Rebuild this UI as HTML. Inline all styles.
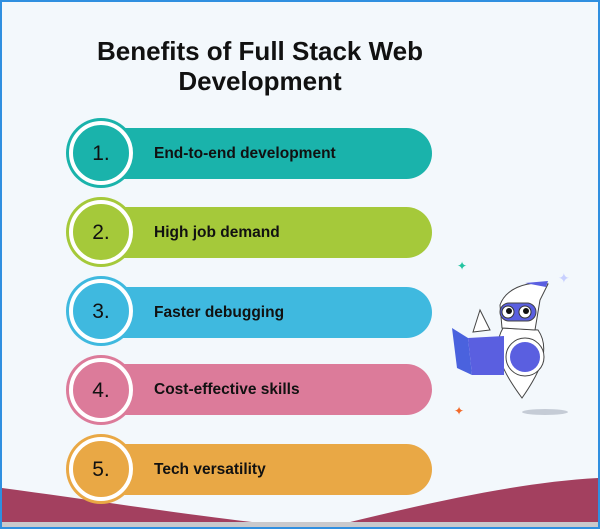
<!DOCTYPE html>
<html><head><style>
body{margin:0;width:600px;height:529px;overflow:hidden;font-family:"Liberation Sans",sans-serif;}
.frame{position:absolute;left:0;top:0;width:596px;height:525px;border:2px solid #2f8fe0;background:#f3f8fc;overflow:hidden;}
.t{position:absolute;left:0;width:516px;text-align:center;font-size:26px;font-weight:bold;color:#111;}
.bar{position:absolute;left:98px;width:332px;height:51px;border-radius:0 26px 26px 0;}
.bar span{position:absolute;left:54px;top:0;line-height:51px;font-size:15.5px;font-weight:bold;color:#111;}
.c{position:absolute;left:67px;width:56px;height:56px;border-radius:50%;border:4px solid #fff;}
.c span{position:absolute;left:0;right:0;text-align:center;top:17px;font-size:21px;color:#111;}
</style></head><body><div class="frame">
<div class="t" style="top:34px">Benefits of Full Stack Web</div>
<div class="t" style="top:64px">Development</div>
<svg style="position:absolute;left:0;top:0" width="596" height="525">
<path d="M0 486 C90 498 180 512 250 520 L340 522 C430 500 520 480 596 476 L596 525 L0 525Z" fill="#a3405f"/>
<rect x="0" y="520" width="596" height="5" fill="#c9c9cc"/>
</svg>
<div class="bar" style="top:126px;background:#1ab3ab"><span>End-to-end development</span></div>
<div class="bar" style="top:205px;background:#a5c93a"><span>High job demand</span></div>
<div class="bar" style="top:285px;background:#3fb9df"><span>Faster debugging</span></div>
<div class="bar" style="top:362px;background:#dc7b9a"><span>Cost-effective skills</span></div>
<div class="bar" style="top:442px;background:#e9a845"><span>Tech versatility</span></div>
<div class="c" style="top:119px;background:#1ab3ab;box-shadow:0 0 0 3px #1ab3ab"><span>1.</span></div>
<div class="c" style="top:198px;background:#a5c93a;box-shadow:0 0 0 3px #a5c93a"><span>2.</span></div>
<div class="c" style="top:277px;background:#3fb9df;box-shadow:0 0 0 3px #3fb9df"><span>3.</span></div>
<div class="c" style="top:356px;background:#dc7b9a;box-shadow:0 0 0 3px #dc7b9a"><span>4.</span></div>
<div class="c" style="top:435px;background:#e9a845;box-shadow:0 0 0 3px #e9a845"><span>5.</span></div>
<svg style="position:absolute;left:428px;top:248px" width="170" height="180">
<text x="27" y="20" font-size="12" fill="#22c4a0">✦</text>
<text x="128" y="33" font-size="14" fill="#c8d0ff">✦</text>
<text x="24" y="165" font-size="12" fill="#f26a2a">✦</text>
<ellipse cx="115" cy="162" rx="23" ry="3" fill="#c5ccd6"/>
<path d="M73 78 C60 100 75 125 92 148 C108 125 122 100 108 80Z" fill="#fff" stroke="#444" stroke-width="1"/>
<circle cx="95" cy="107" r="19" fill="#fff" stroke="#444"/>
<circle cx="95" cy="107" r="15" fill="#5a5fe0"/>
<path d="M70 55 C75 40 95 30 118 34 L110 50 L105 80 L72 78Z" fill="#fff" stroke="#444"/>
<path d="M95 33 L118 31 L116 37 Z" fill="#5a5fe0"/>
<rect x="70" y="53" width="36" height="18" rx="9" fill="#5a5fe0" stroke="#444"/>
<circle cx="78" cy="62" r="6" fill="#fff" stroke="#333"/><circle cx="79" cy="61" r="3" fill="#111"/>
<circle cx="95" cy="62" r="6" fill="#fff" stroke="#333"/><circle cx="96" cy="61" r="3" fill="#111"/>
<path d="M50 60 L43 82 L60 80Z" fill="#fff" stroke="#444"/>
<path d="M22 78 L38 88 L42 125 L27 118Z" fill="#4a62de"/>
<path d="M38 88 L74 86 L74 125 L42 125Z" fill="#5a5fe0"/>
</svg>
</div></body></html>
